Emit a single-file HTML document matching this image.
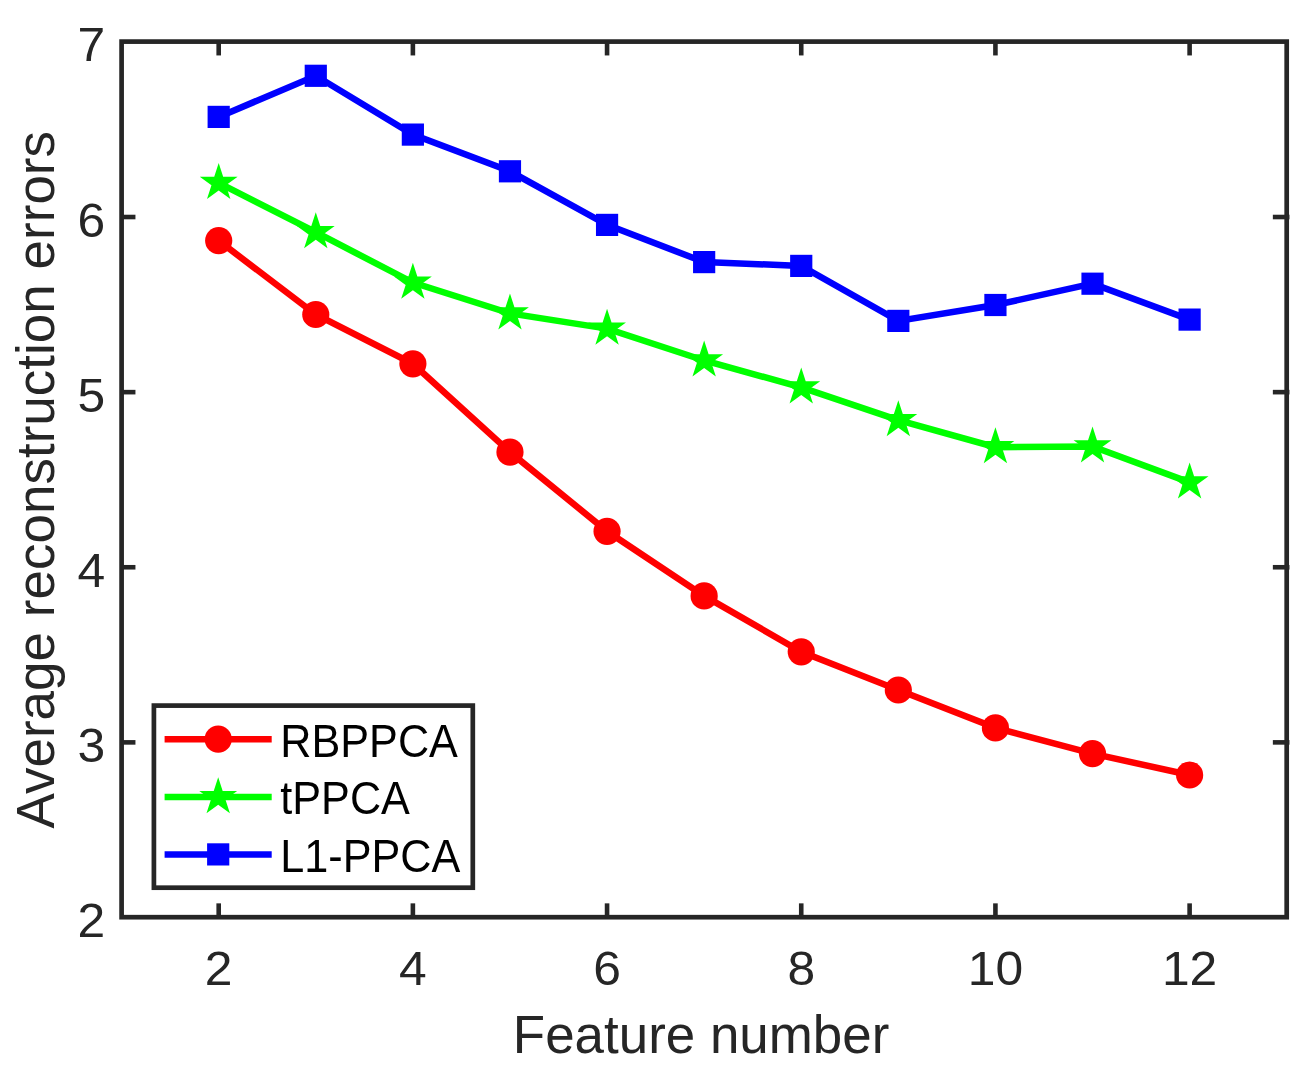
<!DOCTYPE html>
<html lang="en"><head><meta charset="utf-8"><title>Average reconstruction errors vs feature number</title>
<style>html,body{margin:0;padding:0;background:#fff;}body{width:1310px;height:1074px;overflow:hidden;}svg{display:block;}text{font-family:"Liberation Sans",sans-serif;}</style></head><body>
<svg width="1310" height="1074" viewBox="0 0 1310 1074">
<rect width="1310" height="1074" fill="#ffffff"/>
<g id="series">
<polyline fill="none" stroke="#ff0000" stroke-width="6.50" stroke-linejoin="miter" points="218.69,240.70 315.78,314.50 412.88,363.80 509.97,452.10 607.06,531.30 704.15,595.90 801.24,651.80 898.33,690.00 995.43,727.90 1092.52,753.60 1189.61,775.00"/>
<circle cx="218.69" cy="240.70" r="13.60" fill="#ff0000"/><circle cx="315.78" cy="314.50" r="13.60" fill="#ff0000"/><circle cx="412.88" cy="363.80" r="13.60" fill="#ff0000"/><circle cx="509.97" cy="452.10" r="13.60" fill="#ff0000"/><circle cx="607.06" cy="531.30" r="13.60" fill="#ff0000"/><circle cx="704.15" cy="595.90" r="13.60" fill="#ff0000"/><circle cx="801.24" cy="651.80" r="13.60" fill="#ff0000"/><circle cx="898.33" cy="690.00" r="13.60" fill="#ff0000"/><circle cx="995.43" cy="727.90" r="13.60" fill="#ff0000"/><circle cx="1092.52" cy="753.60" r="13.60" fill="#ff0000"/><circle cx="1189.61" cy="775.00" r="13.60" fill="#ff0000"/>
<polyline fill="none" stroke="#00ff00" stroke-width="6.50" stroke-linejoin="miter" points="218.69,182.90 315.78,232.20 412.88,282.60 509.97,313.40 607.06,328.60 704.15,360.50 801.24,387.30 898.33,420.10 995.43,447.20 1092.52,446.50 1189.61,482.40"/>
<polygon points="218.69,163.00 223.16,176.75 237.62,176.75 225.92,185.25 230.39,199.00 218.69,190.50 206.99,199.00 211.46,185.25 199.77,176.75 214.22,176.75" fill="#00ff00"/><polygon points="315.78,212.30 320.25,226.05 334.71,226.05 323.01,234.55 327.48,248.30 315.78,239.80 304.09,248.30 308.55,234.55 296.86,226.05 311.32,226.05" fill="#00ff00"/><polygon points="412.88,262.70 417.34,276.45 431.80,276.45 420.10,284.95 424.57,298.70 412.88,290.20 401.18,298.70 405.65,284.95 393.95,276.45 408.41,276.45" fill="#00ff00"/><polygon points="509.97,293.50 514.43,307.25 528.89,307.25 517.20,315.75 521.66,329.50 509.97,321.00 498.27,329.50 502.74,315.75 491.04,307.25 505.50,307.25" fill="#00ff00"/><polygon points="607.06,308.70 611.53,322.45 625.98,322.45 614.29,330.95 618.76,344.70 607.06,336.20 595.36,344.70 599.83,330.95 588.13,322.45 602.59,322.45" fill="#00ff00"/><polygon points="704.15,340.60 708.62,354.35 723.08,354.35 711.38,362.85 715.85,376.60 704.15,368.10 692.45,376.60 696.92,362.85 685.22,354.35 699.68,354.35" fill="#00ff00"/><polygon points="801.24,367.40 805.71,381.15 820.17,381.15 808.47,389.65 812.94,403.40 801.24,394.90 789.54,403.40 794.01,389.65 782.32,381.15 796.77,381.15" fill="#00ff00"/><polygon points="898.33,400.20 902.80,413.95 917.26,413.95 905.56,422.45 910.03,436.20 898.33,427.70 886.64,436.20 891.10,422.45 879.41,413.95 893.87,413.95" fill="#00ff00"/><polygon points="995.43,427.30 999.89,441.05 1014.35,441.05 1002.65,449.55 1007.12,463.30 995.43,454.80 983.73,463.30 988.20,449.55 976.50,441.05 990.96,441.05" fill="#00ff00"/><polygon points="1092.52,426.60 1096.98,440.35 1111.44,440.35 1099.75,448.85 1104.21,462.60 1092.52,454.10 1080.82,462.60 1085.29,448.85 1073.59,440.35 1088.05,440.35" fill="#00ff00"/><polygon points="1189.61,462.50 1194.08,476.25 1208.53,476.25 1196.84,484.75 1201.31,498.50 1189.61,490.00 1177.91,498.50 1182.38,484.75 1170.68,476.25 1185.14,476.25" fill="#00ff00"/>
<polyline fill="none" stroke="#0000ff" stroke-width="6.50" stroke-linejoin="miter" points="218.69,116.90 315.78,75.80 412.88,134.60 509.97,171.30 607.06,224.90 704.15,262.10 801.24,265.90 898.33,320.90 995.43,305.00 1092.52,283.70 1189.61,319.60"/>
<rect x="207.59" y="105.80" width="22.20" height="22.20" fill="#0000ff"/><rect x="304.68" y="64.70" width="22.20" height="22.20" fill="#0000ff"/><rect x="401.77" y="123.50" width="22.20" height="22.20" fill="#0000ff"/><rect x="498.87" y="160.20" width="22.20" height="22.20" fill="#0000ff"/><rect x="595.96" y="213.80" width="22.20" height="22.20" fill="#0000ff"/><rect x="693.05" y="251.00" width="22.20" height="22.20" fill="#0000ff"/><rect x="790.14" y="254.80" width="22.20" height="22.20" fill="#0000ff"/><rect x="887.23" y="309.80" width="22.20" height="22.20" fill="#0000ff"/><rect x="984.33" y="293.90" width="22.20" height="22.20" fill="#0000ff"/><rect x="1081.42" y="272.60" width="22.20" height="22.20" fill="#0000ff"/><rect x="1178.51" y="308.50" width="22.20" height="22.20" fill="#0000ff"/>
</g>
<g id="axes" stroke="#262626" stroke-width="4.70" fill="none" stroke-linecap="butt">
<rect x="121.60" y="41.60" width="1165.10" height="875.60"/>
<line x1="218.69" y1="917.20" x2="218.69" y2="903.35" stroke-width="4.60"/>
<line x1="218.69" y1="41.60" x2="218.69" y2="55.45" stroke-width="4.60"/>
<line x1="412.88" y1="917.20" x2="412.88" y2="903.35" stroke-width="4.60"/>
<line x1="412.88" y1="41.60" x2="412.88" y2="55.45" stroke-width="4.60"/>
<line x1="607.06" y1="917.20" x2="607.06" y2="903.35" stroke-width="4.60"/>
<line x1="607.06" y1="41.60" x2="607.06" y2="55.45" stroke-width="4.60"/>
<line x1="801.24" y1="917.20" x2="801.24" y2="903.35" stroke-width="4.60"/>
<line x1="801.24" y1="41.60" x2="801.24" y2="55.45" stroke-width="4.60"/>
<line x1="995.43" y1="917.20" x2="995.43" y2="903.35" stroke-width="4.60"/>
<line x1="995.43" y1="41.60" x2="995.43" y2="55.45" stroke-width="4.60"/>
<line x1="1189.61" y1="917.20" x2="1189.61" y2="903.35" stroke-width="4.60"/>
<line x1="1189.61" y1="41.60" x2="1189.61" y2="55.45" stroke-width="4.60"/>
<line x1="121.60" y1="742.38" x2="135.45" y2="742.38" stroke-width="4.60"/>
<line x1="1289.45" y1="742.38" x2="1272.85" y2="742.38" stroke-width="4.60"/>
<line x1="121.60" y1="567.26" x2="135.45" y2="567.26" stroke-width="4.60"/>
<line x1="1289.45" y1="567.26" x2="1272.85" y2="567.26" stroke-width="4.60"/>
<line x1="121.60" y1="392.14" x2="135.45" y2="392.14" stroke-width="4.60"/>
<line x1="1289.45" y1="392.14" x2="1272.85" y2="392.14" stroke-width="4.60"/>
<line x1="121.60" y1="217.02" x2="135.45" y2="217.02" stroke-width="4.60"/>
<line x1="1289.45" y1="217.02" x2="1272.85" y2="217.02" stroke-width="4.60"/>
</g>
<g id="ticklabels" fill="#262626" font-size="49.80">
<text transform="translate(218.69,985.20) scale(1,0.982)" text-anchor="middle">2</text>
<text transform="translate(412.88,985.20) scale(1,0.982)" text-anchor="middle">4</text>
<text transform="translate(607.06,985.20) scale(1,0.982)" text-anchor="middle">6</text>
<text transform="translate(801.24,985.20) scale(1,0.982)" text-anchor="middle">8</text>
<text transform="translate(995.43,985.20) scale(1,0.982)" text-anchor="middle">10</text>
<text transform="translate(1189.61,985.20) scale(1,0.982)" text-anchor="middle">12</text>
<text transform="translate(105.20,937.00) scale(1,0.982)" text-anchor="end">2</text>
<text transform="translate(105.20,761.88) scale(1,0.982)" text-anchor="end">3</text>
<text transform="translate(105.20,586.76) scale(1,0.982)" text-anchor="end">4</text>
<text transform="translate(105.20,411.64) scale(1,0.982)" text-anchor="end">5</text>
<text transform="translate(105.20,236.52) scale(1,0.982)" text-anchor="end">6</text>
<text transform="translate(105.20,61.40) scale(1,0.982)" text-anchor="end">7</text>
</g>
<g id="labels" fill="#262626" font-size="54.40">
<text x="701.10" y="1053.00" text-anchor="middle" textLength="376.5" lengthAdjust="spacingAndGlyphs">Feature number</text>
<text transform="translate(54.20,479.70) rotate(-90)" text-anchor="middle" textLength="697.5" lengthAdjust="spacingAndGlyphs">Average reconstruction errors</text>
</g>
<g id="legend">
<rect x="153.90" y="705.60" width="318.90" height="182.10" fill="#ffffff" stroke="#262626" stroke-width="4.70"/>
<line x1="164.6" y1="739.20" x2="271.7" y2="739.20" stroke="#ff0000" stroke-width="6.50"/>
<line x1="164.6" y1="796.90" x2="271.7" y2="796.90" stroke="#00ff00" stroke-width="6.50"/>
<line x1="164.6" y1="854.40" x2="271.7" y2="854.40" stroke="#0000ff" stroke-width="6.50"/>
<circle cx="218.20" cy="739.20" r="13.60" fill="#ff0000"/>
<polygon points="218.20,777.30 222.67,791.05 237.13,791.05 225.43,799.55 229.90,813.30 218.20,804.80 206.50,813.30 210.97,799.55 199.27,791.05 213.73,791.05" fill="#00ff00"/>
<rect x="207.10" y="843.30" width="22.20" height="22.20" fill="#0000ff"/>
<g fill="#000000" font-size="43.20">
<text transform="translate(280.3,756.50) scale(1,1.065)">RBPPCA</text>
<text transform="translate(280.3,814.20) scale(1,1.065)">tPPCA</text>
<text transform="translate(280.3,872.20) scale(1,1.065)">L1-PPCA</text>
</g></g>
</svg></body></html>
